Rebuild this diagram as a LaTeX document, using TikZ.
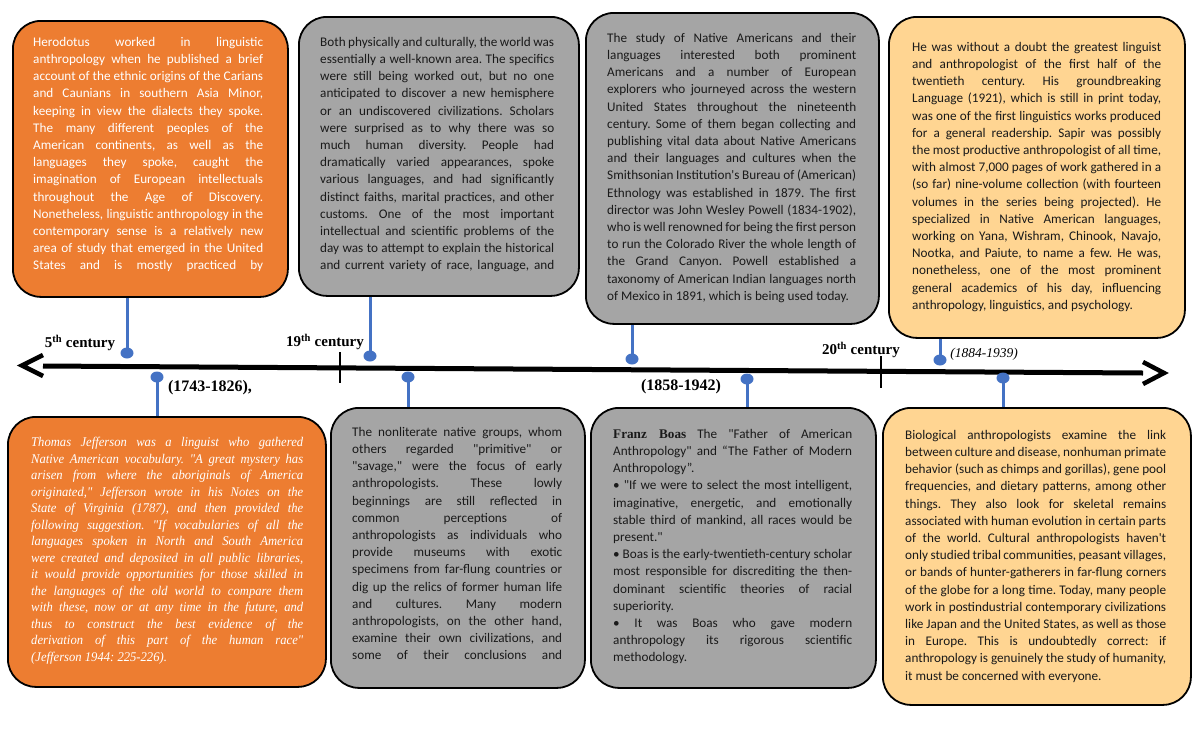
\documentclass[tikz,border=0pt]{standalone}
\usepackage{fontspec}
\newfontfamily\body{Carlito}
\newfontfamily\serif{Liberation Serif}
\newfontfamily\jeff{Liberation Serif}[FakeStretch=0.95]
\usetikzlibrary{shapes.geometric}
\definecolor{orangebox}{HTML}{ED7D31}
\definecolor{graybox}{HTML}{A5A5A5}
\definecolor{peachbox}{HTML}{FFD592}
\definecolor{pinblue}{HTML}{4472C4}
\definecolor{ink}{HTML}{1A1A1A}
\newcommand\J[1]{\hbox to \hsize{#1}}
\frenchspacing
\tikzset{
  box/.style={draw=black, line width=1.8pt, rounded corners=28pt, anchor=north west, inner sep=0pt},
  txt/.style={anchor=north west, inner sep=0pt, align=justify, text=ink, font=\body\fontsize{13.2}{17.2}\selectfont\frenchspacing},
  pinline/.style={draw=pinblue, line width=3pt},
  dotn/.style={ellipse, fill=pinblue, inner sep=0pt, minimum width=13pt, minimum height=11pt},
  lbl/.style={inner sep=0pt, font=\serif\bfseries\fontsize{15}{18}\selectfont},
  axis/.style={line width=5pt},
  chev/.style={line width=4.5pt, line join=miter},
  tickmark/.style={line width=2.5pt}
}
\begin{document}
\begin{tikzpicture}[x=1pt,y=-1pt]
\useasboundingbox[fill=white] (0,0) rectangle (1200,729);

% ---------- boxes ----------
\node[box, fill=orangebox, minimum width=275pt, minimum height=276pt] (b1) at (12,20) {};
\node[box, fill=graybox, minimum width=280pt, minimum height=279pt] (b2) at (298,16) {};
\node[box, fill=graybox, minimum width=293pt, minimum height=311pt] (b3) at (585,12) {};
\node[box, fill=peachbox, minimum width=296pt, minimum height=321pt] (b4) at (888,16) {};
\node[box, fill=orangebox, minimum width=318pt, minimum height=270pt] (b5) at (7,416) {};
\node[box, fill=graybox, minimum width=254pt, minimum height=280pt] (b6) at (330,407) {};
\node[box, fill=graybox, minimum width=285pt, minimum height=280pt] (b7) at (590,407) {};
\node[box, fill=peachbox, minimum width=308pt, minimum height=297pt] (b8) at (882,407) {};

% ---------- texts ----------
\node[txt, text=white, text width=230pt] (t1) at (33,37) {%
\J{Herodotus worked in linguistic}\\
\J{anthropology when he published a brief}\\
\J{account of the ethnic origins of the Carians}\\
\J{and Caunians in southern Asia Minor,}\\
\J{keeping in view the dialects they spoke.}\\
\J{The many different peoples of the}\\
\J{American continents, as well as the}\\
\J{languages they spoke, caught the}\\
\J{imagination of European intellectuals}\\
\J{throughout the Age of Discovery.}\\
\J{Nonetheless, linguistic anthropology in the}\\
\J{contemporary sense is a relatively new}\\
\J{area of study that emerged in the United}\\
\J{States and is mostly practiced by}};

\node[txt, text width=234pt] (t2) at (320,37) {%
\J{Both physically and culturally, the world was}\\
\J{essentially a well-known area. The specifics}\\
\J{were still being worked out, but no one}\\
\J{anticipated to discover a new hemisphere}\\
\J{or an undiscovered civilizations. Scholars}\\
\J{were surprised as to why there was so}\\
\J{much human diversity. People had}\\
\J{dramatically varied appearances, spoke}\\
\J{various languages, and had significantly}\\
\J{distinct faiths, marital practices, and other}\\
\J{customs. One of the most important}\\
\J{intellectual and scientific problems of the}\\
\J{day was to attempt to explain the historical}\\
\J{and current variety of race, language, and}};

\node[txt, text width=249pt] (t3) at (607,33) {%
\J{The study of Native Americans and their}\\
\J{languages interested both prominent}\\
\J{Americans and a number of European}\\
\J{explorers who journeyed across the western}\\
\J{United States throughout the nineteenth}\\
\J{century. Some of them began collecting and}\\
\J{publishing vital data about Native Americans}\\
\J{and their languages and cultures when the}\\
\J{Smithsonian Institution's Bureau of (American)}\\
\J{Ethnology was established in 1879. The first}\\
\J{director was John Wesley Powell (1834-1902),}\\
\J{who is well renowned for being the first person}\\
\J{to run the Colorado River the whole length of}\\
\J{the Grand Canyon. Powell established a}\\
\J{taxonomy of American Indian languages north}\\
\hbox{of Mexico in 1891, which is being used today.}};

\node[txt, text width=249pt] (t4) at (912,42) {%
\J{He was without a doubt the greatest linguist}\\
\J{and anthropologist of the first half of the}\\
\J{twentieth century. His groundbreaking}\\
\J{Language (1921), which is still in print today,}\\
\J{was one of the first linguistics works produced}\\
\J{for a general readership. Sapir was possibly}\\
\J{the most productive anthropologist of all time,}\\
\J{with almost 7,000 pages of work gathered in a}\\
\J{(so far) nine-volume collection (with fourteen}\\
\J{volumes in the series being projected). He}\\
\J{specialized in Native American languages,}\\
\J{working on Yana, Wishram, Chinook, Navajo,}\\
\J{Nootka, and Paiute, to name a few. He was,}\\
\J{nonetheless, one of the most prominent}\\
\J{general academics of his day, influencing}\\
\hbox{anthropology, linguistics, and psychology.}};

\node[txt, text=white, text width=272pt, font=\jeff\itshape\fontsize{13.3}{16.5}\selectfont\frenchspacing] (t5) at (31,437) {%
\J{Thomas Jefferson was a linguist who gathered}\\
\J{Native American vocabulary. "A great mystery has}\\
\J{arisen from where the aboriginals of America}\\
\J{originated," Jefferson wrote in his Notes on the}\\
\J{State of Virginia (1787), and then provided the}\\
\J{following suggestion. "If vocabularies of all the}\\
\J{languages spoken in North and South America}\\
\J{were created and deposited in all public libraries,}\\
\J{it would provide opportunities for those skilled in}\\
\J{the languages of the old world to compare them}\\
\J{with these, now or at any time in the future, and}\\
\J{thus to construct the best evidence of the}\\
\J{derivation of this part of the human race"}\\
\hbox{(Jefferson 1944: 225-226).}};

\node[txt, text width=210pt] (t6) at (352,427) {%
\J{The nonliterate native groups, whom}\\
\J{others regarded "primitive" or}\\
\J{"savage," were the focus of early}\\
\J{anthropologists. These lowly}\\
\J{beginnings are still reflected in}\\
\J{common perceptions of}\\
\J{anthropologists as individuals who}\\
\J{provide museums with exotic}\\
\J{specimens from far-flung countries or}\\
\J{dig up the relics of former human life}\\
\J{and cultures. Many modern}\\
\J{anthropologists, on the other hand,}\\
\J{examine their own civilizations, and}\\
\J{some of their conclusions and}};

\node[txt, text width=239pt] (t7) at (613,429) {%
\J{{\serif\bfseries Franz Boas} The "Father of American}\\
\J{Anthropology" and “The Father of Modern}\\
\hbox{Anthropology”.}\\
\J{• "If we were to select the most intelligent,}\\
\J{imaginative, energetic, and emotionally}\\
\J{stable third of mankind, all races would be}\\
\hbox{present."}\\
\J{• Boas is the early-twentieth-century scholar}\\
\J{most responsible for discrediting the then-}\\
\J{dominant scientific theories of racial}\\
\hbox{superiority.}\\
\J{• It was Boas who gave modern}\\
\J{anthropology its rigorous scientific}\\
\hbox{methodology.}};

\node[txt, text width=261pt] (t8) at (905,430) {%
\J{Biological anthropologists examine the link}\\
\J{between culture and disease, nonhuman primate}\\
\J{behavior (such as chimps and gorillas), gene pool}\\
\J{frequencies, and dietary patterns, among other}\\
\J{things. They also look for skeletal remains}\\
\J{associated with human evolution in certain parts}\\
\J{of the world. Cultural anthropologists haven't}\\
\J{only studied tribal communities, peasant villages,}\\
\J{or bands of hunter-gatherers in far-flung corners}\\
\J{of the globe for a long time. Today, many people}\\
\J{work in postindustrial contemporary civilizations}\\
\J{like Japan and the United States, as well as those}\\
\J{in Europe. This is undoubtedly correct: if}\\
\J{anthropology is genuinely the study of humanity,}\\
\hbox{it must be concerned with everyone.}};

% ---------- timeline ----------
\coordinate (TL) at (43,366);
\coordinate (TR) at (1143,373);
\draw[axis] (TL) -- (TR);
\coordinate (LA1) at (43,355); \coordinate (LT) at (22,365.5); \coordinate (LA2) at (43,376);
\coordinate (RA1) at (1143,362); \coordinate (RT) at (1164,373); \coordinate (RA2) at (1143,384);
\draw[chev] (LA1) -- (LT) -- (LA2);
\draw[chev] (RA1) -- (RT) -- (RA2);
\coordinate (k1a) at (340,352); \coordinate (k1b) at (340,383);
\coordinate (k2a) at (881,356); \coordinate (k2b) at (881,388);
\draw[tickmark] (k1a) -- (k1b);
\draw[tickmark] (k2a) -- (k2b);

% ---------- labels ----------
\node[lbl] (c5) at (80,343) {5\textsuperscript{th} century};
\node[lbl] (c19) at (325,342) {19\textsuperscript{th} century};
\node[lbl] (c20) at (861,350) {20\textsuperscript{th} century};
\node[lbl, font=\serif\bfseries\fontsize{16}{18}\selectfont] (y1) at (210,388) {(1743-1826),};
\node[lbl, font=\serif\bfseries\fontsize{16}{18}\selectfont] (y2) at (681,387) {(1858-1942)};
\node[inner sep=0pt, font=\serif\itshape\fontsize{13.5}{16}\selectfont] (y3) at (984,354) {(1884-1939)};

% ---------- pins ----------
\node[dotn] (d1) at (127,353) {};
\node[dotn] (d2) at (370,356) {};
\node[dotn] (d3) at (632,359) {};
\node[dotn] (d4) at (940,360) {};
\node[dotn] (d5) at (157,377) {};
\node[dotn] (d6) at (408,377) {};
\node[dotn] (d7) at (747,379) {};
\node[dotn] (d8) at (1003,378) {};
\draw[pinline] (b1.south -| d1) -- (d1.center);
\draw[pinline] (b2.south -| d2) -- (d2.center);
\draw[pinline] (b3.south -| d3) -- (d3.center);
\draw[pinline] (b4.south -| d4) -- (d4.center);
\draw[pinline] (d5.center) -- (b5.north -| d5);
\draw[pinline] (d6.center) -- (b6.north -| d6);
\draw[pinline] (d7.center) -- (b7.north -| d7);
\draw[pinline] (d8.center) -- (b8.north -| d8);
\end{tikzpicture}
\end{document}
